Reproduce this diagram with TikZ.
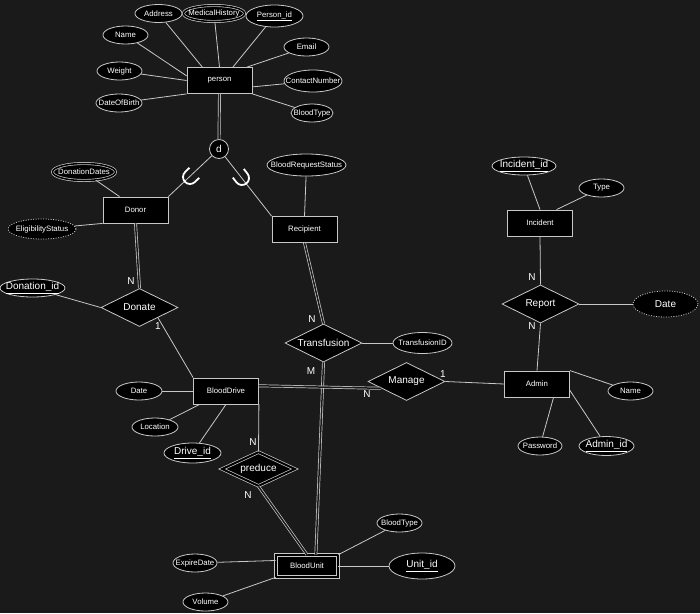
\documentclass[tikz,border=0pt]{standalone}
\usepackage{fontspec}
\setmainfont{Liberation Sans}
\usetikzlibrary{shapes.geometric}

\definecolor{fondo}{HTML}{1A1A1A}
\definecolor{borde}{HTML}{C8C8C8}
\newcommand{\etiq}[1]{\makebox[0pt]{#1}}

\begin{document}
\begin{tikzpicture}[x=1pt, y=-1pt,
    every node/.style={text=white, font=\fontsize{7.8}{9}\selectfont},
    grande/.style={font=\fontsize{10}{12}\selectfont},
    entidad/.style={rectangle, draw=borde, line width=0.8pt, fill=black, minimum width=65pt, minimum height=26pt, inner sep=0pt},
    debil/.style={entidad, line width=0.7pt, double=black, double distance=2pt, minimum width=62pt, minimum height=22pt},
    relacion/.style={diamond, aspect=2, draw=borde, line width=0.8pt, fill=black, minimum width=77pt, minimum height=38pt, inner sep=0pt, grande},
    relaciondebil/.style={relacion, line width=0.7pt, double=black, double distance=2pt, minimum width=73pt, minimum height=34pt},
    atributo/.style={ellipse, draw=borde, line width=0.8pt, fill=black, minimum width=45pt, minimum height=18pt, inner sep=0pt},
    multivalor/.style={atributo, line width=0.7pt, double=black, double distance=1.5pt},
    derivado/.style={atributo, dash pattern=on 1pt off 1.5pt},
    card/.style={grande, inner sep=0pt},
    linea/.style={draw=borde, line width=0.8pt},
    doble/.style={draw=borde, double=fondo, double distance=1.5pt, line width=0.7pt},
    copa/.style={draw=white, line width=1.8pt}
]
    \useasboundingbox[fill=fondo] (0,0) rectangle (700,613);

    % Entidades
    \node[entidad] (person) at (219.5,80.5) {person};
    \node[entidad] (donor) at (135.5,210) {Donor};
    \node[entidad] (recipient) at (304.5,229.5) {Recipient};
    \node[entidad] (blooddrive) at (226,391) {BloodDrive};
    \node[entidad] (incident) at (540,223) {Incident};
    \node[entidad] (admin) at (537,384) {Admin};
    \node[debil] (bloodunit) at (307,566) {BloodUnit};

    % Especializacion
    \node[circle, draw=borde, line width=0.8pt, fill=black, minimum size=19pt, inner sep=0pt, grande] (d) at (219,149) {d};

    % Relaciones
    \node[relacion] (donate) at (139.5,307.5) {Donate};
    \node[relacion] (transfusion) at (323.5,343) {Transfusion};
    \node[relacion] (manage) at (406.5,381.5) {Manage};
    \node[relacion] (report) at (540.5,304) {Report};
    \node[relaciondebil] (produce) at (258.5,469) {preduce};

    % Atributos de person
    \node[atributo, minimum width=47pt] (address) at (158.5,13.5) {\etiq{Address}};
    \node[multivalor, minimum width=61pt, minimum height=16pt] (medhist) at (214,13.5) {\etiq{MedicalHistory}};
    \node[atributo, minimum width=57pt, minimum height=22pt] (personid) at (274.5,16) {\etiq{\underline{Person\_id}}};
    \node[atributo] (name) at (125.5,35) {\etiq{Name}};
    \node[atributo] (email) at (306.5,47) {\etiq{Email}};
    \node[atributo] (weight) at (119.5,71) {\etiq{Weight}};
    \node[atributo, minimum width=58pt, minimum height=22pt] (contact) at (313,81) {\etiq{ContactNumber}};
    \node[atributo, minimum width=46pt] (dob) at (119,103) {\etiq{DateOfBirth}};
    \node[atributo, minimum width=42pt] (ptype) at (312,113) {\etiq{BloodType}};

    % Atributos de Donor y Recipient
    \node[multivalor, minimum width=63pt, minimum height=17pt] (donationdates) at (84,172) {\etiq{DonationDates}};
    \node[derivado, minimum width=68pt, minimum height=20pt] (eligibility) at (42,229) {\etiq{EligibilityStatus}};
    \node[atributo, minimum width=79pt, minimum height=22pt] (brs) at (306.5,165) {\etiq{BloodRequestStatus}};

    % Atributos de relaciones
    \node[atributo, minimum width=65pt, grande] (donationid) at (32.5,288) {\etiq{\underline{Donation\_id}}};
    \node[atributo, minimum width=59pt, minimum height=21pt] (transid) at (422.5,343) {\etiq{TransfusionID}};
    \node[derivado, minimum width=65pt, minimum height=26pt, grande] (reportdate) at (665.5,304) {\etiq{Date}};

    % Atributos de BloodDrive
    \node[atributo, minimum width=46pt] (date) at (139,391) {\etiq{Date}};
    \node[atributo, minimum width=46pt] (location) at (155,427) {\etiq{Location}};
    \node[atributo, minimum width=57pt, minimum height=20pt, grande] (driveid) at (192.5,453) {\etiq{\underline{Drive\_id}}};

    % Atributos de Incident y Admin
    \node[atributo, minimum width=64pt, grande] (incidentid) at (524,166) {\etiq{\underline{Incident\_id}}};
    \node[atributo] (type) at (601.5,188) {\etiq{Type}};
    \node[atributo] (adminname) at (630.5,391) {\etiq{Name}};
    \node[atributo, minimum width=44pt] (password) at (540,446) {\etiq{Password}};
    \node[atributo, minimum width=55pt, minimum height=19pt, grande] (adminid) at (606.5,446) {\etiq{\underline{Admin\_id}}};

    % Atributos de BloodUnit
    \node[atributo] (bloodtype) at (399.5,523) {\etiq{BloodType}};
    \node[atributo, minimum width=66pt, minimum height=26pt, grande] (unitid) at (422,566) {\etiq{\underline{Unit\_id}}};
    \node[atributo, minimum width=44pt] (expiredate) at (195,563) {\etiq{ExpireDate}};
    \node[atributo] (volume) at (205.5,602) {\etiq{Volume}};

    % Lineas de person
    \draw[linea] (name) -- (person.172);
    \draw[linea] (weight) -- (person.west);
    \draw[linea] (dob) -- (person.south west);
    \draw[linea] (address) -- (person.142);
    \draw[linea] (medhist) -- (person.north);
    \draw[linea] (personid) -- (person.45);
    \draw[linea] (email) -- (person.26);
    \draw[linea] (contact) -- (person.349);
    \draw[linea] (ptype) -- (person.south east);

    % Especializacion disjunta
    \draw[doble] (person.south) -- (d.north);
    \draw[linea] (d) -- (donor.north east);
    \draw[linea] (d) -- (recipient.north west);
    \coordinate (copaDonor) at (190,177);
    \coordinate (copaRecipient) at (242,178);
    \draw[copa] (copaDonor) ++(-44:6) ++(46:7) -- ++(136:6) arc[start angle=46, end angle=226, radius=7] -- ++(-44:6);
    \draw[copa] (copaRecipient) ++(-128:6) ++(-38:7) -- ++(52:6) arc[start angle=-38, end angle=142, radius=7] -- ++(-128:6);

    % Donor y Donate
    \draw[linea] (donationdates) -- (donor.140);
    \draw[linea] (eligibility) -- (donor.south west);
    \draw[doble] (donor.south) -- (donate.north);
    \draw[linea] (donationid) -- (donate.west);
    \draw[linea] (donate.331) -- (blooddrive.north west);

    % Recipient y Transfusion
    \draw[linea] (brs) -- (recipient.north);
    \draw[doble] (recipient.south) -- (transfusion.north);
    \draw[linea] (transfusion.east) -- (transid);

    % BloodDrive
    \draw[linea] (date) -- (blooddrive.west);
    \draw[linea] (location) -- (blooddrive.207);
    \draw[linea] (driveid) -- (blooddrive.south);
    \draw[linea] (blooddrive.south east) -- (produce.north);
    \draw[doble] (produce.south) -- (bloodunit.north);
    \draw[doble] (transfusion.south) -- (bloodunit.52);
    \draw[doble] (blooddrive.9) -- (manage.195);

    % Admin e Incident
    \draw[linea] (manage.east) -- (admin.west);
    \draw[linea] (incidentid) -- (incident.north);
    \draw[linea] (type) -- (incident.39);
    \draw[linea] (incident.south) -- (report.north);
    \draw[linea] (report.south) -- (admin.north);
    \draw[linea] (report.east) -- (reportdate);
    \draw[linea] (admin.north east) -- (adminname);
    \draw[linea] (admin.321) -- (password);
    \draw[linea] (admin.349) -- (adminid);

    % BloodUnit
    \draw[linea] (expiredate) -- (bloodunit.170);
    \draw[linea] (volume) -- (bloodunit.south west);
    \draw[linea] (bloodtype) -- (bloodunit.north east);
    \draw[linea] (bloodunit.east) -- (unitid);

    % Cardinalidades
    \node[card] (nDonor) at (131,281) {N};
    \node[card] (uDonate) at (158,326) {1};
    \node[card] (nRecipient) at (312,319) {N};
    \node[card] (mUnit) at (311,371) {M};
    \node[card] (nDrive) at (367,394) {N};
    \node[card] (uAdmin) at (443,374) {1};
    \node[card] (nDriveP) at (253,442) {N};
    \node[card] (nUnitP) at (248,495) {N};
    \node[card] (nIncident) at (532,277) {N};
    \node[card] (nAdmin) at (532,326) {N};
\end{tikzpicture}
\end{document}
